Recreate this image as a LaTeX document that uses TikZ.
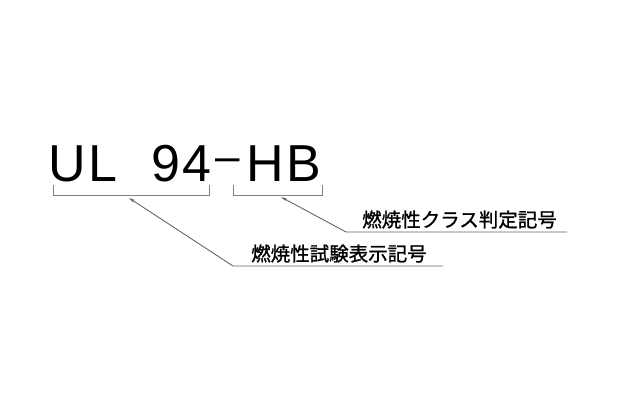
\documentclass[tikz,border=0pt]{standalone}
\usepackage{fontspec}
\setmainfont{Liberation Sans}
\newfontfamily\cjk[FakeBold=1.2]{Noto Sans CJK JP}
\newfontfamily\codefont[LetterSpace=5]{Liberation Sans}
\usetikzlibrary{arrows.meta}

\begin{document}
\begin{tikzpicture}[x=1pt,y=-1pt,
  code/.style={inner sep=0pt,anchor=base west,font=\codefont\fontsize{52}{52}\selectfont},
  lbl/.style={inner sep=0pt,anchor=west,font=\cjk\fontsize{19.5}{20}\selectfont},
  bracket/.style={black!50,line width=0.9pt},
  leader/.style={black!60,line width=0.9pt,arrows={Stealth[length=6pt,width=3pt]-}}]
  \useasboundingbox (0,0) rectangle (620,413);
  % designation
  \node[code] (ul) at (48,181) {UL};
  \node[code] (num) at (151,181) {94};
  \node[code] (dash) at (215,171) {\fontsize{44}{44}\selectfont –};
  \node[code] (hb) at (246,181) {HB};
  % brackets under the code
  \foreach \a/\b in {53/209,233/322}
    \draw[bracket] (\a,185) -- (\a,195) -- (\b,195) -- (\b,185);
  % labels
  \node[lbl] (testLbl) at (251,253.5) {燃焼性試験表示記号};
  \node[lbl] (classLbl) at (362,219.5) {燃焼性クラス判定記号};
  \coordinate (ulTip) at (129,198);
  \coordinate (ulBend) at (233,266);
  \coordinate (ulEnd) at (443,266);
  \coordinate (hbTip) at (281,197);
  \coordinate (hbBend) at (346,232);
  \coordinate (hbEnd) at (567,232);
  \draw[leader] (ulTip) -- (ulBend) -- (ulEnd);
  \draw[leader] (hbTip) -- (hbBend) -- (hbEnd);
\end{tikzpicture}
\end{document}
